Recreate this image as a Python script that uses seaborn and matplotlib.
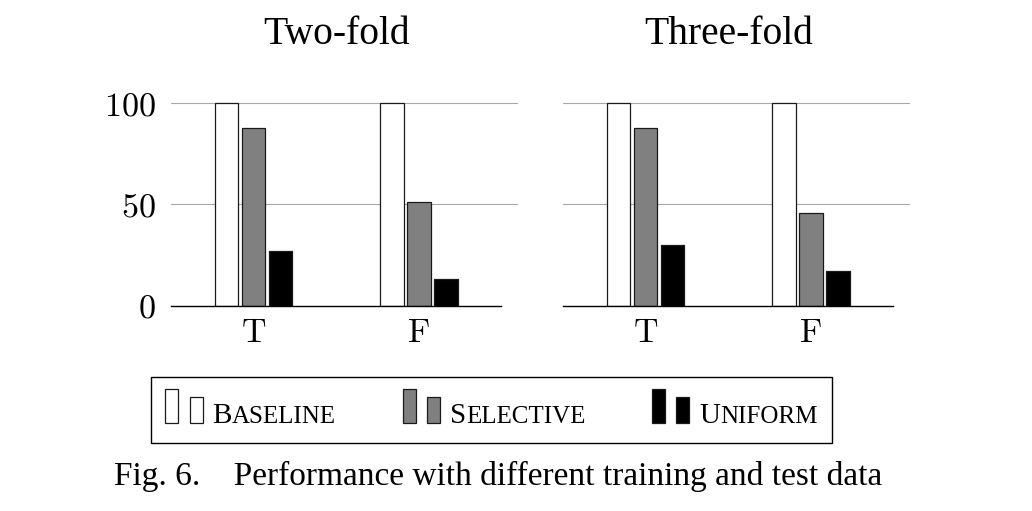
import matplotlib
matplotlib.use("Agg")
import matplotlib.pyplot as plt
import matplotlib.transforms as mtransforms
from matplotlib.patches import Rectangle
from matplotlib.offsetbox import AnchoredOffsetbox, DrawingArea, HPacker, TextArea
import seaborn as sns
import pandas as pd

# data (percent of baseline)
panels = ["Two-fold", "Three-fold"]
conditions = ["T", "F"]
methods = ["Baseline", "Selective", "Uniform"]
baseline_two = [100, 100]
selective_two = [88, 51]
uniform_two = [27, 13]
baseline_three = [100, 100]
selective_three = [88, 46]
uniform_three = [30, 17]
yticks = [0, 50, 100]

colors = {"Baseline": "white", "Selective": "#808080", "Uniform": "black"}
serif = "Liberation Serif"


def make_df(base, sel, uni):
    rows = []
    for vals, m in zip([base, sel, uni], methods):
        for c, v in zip(conditions, vals):
            rows.append({"cond": c, "method": m, "value": v})
    return pd.DataFrame(rows)


def main():
    sns.set_style("white")
    plt.rcParams["font.family"] = [serif, "DejaVu Serif"]
    plt.rcParams["mathtext.fontset"] = "cm"
    plt.rcParams["text.color"] = "black"
    plt.rcParams["xtick.color"] = "black"
    plt.rcParams["ytick.color"] = "black"

    fig = plt.figure(figsize=(10.32, 5.11), dpi=100)
    W, H = 1032, 511
    y0 = 305.7
    h = (305.7 - 103.3) * 1.05
    axes = [
        fig.add_axes([171 / W, 1 - y0 / H, 347 / W, h / H]),
        fig.add_axes([563 / W, 1 - y0 / H, 347 / W, h / H]),
    ]
    data = [
        make_df(baseline_two, selective_two, uniform_two),
        make_df(baseline_three, selective_three, uniform_three),
    ]

    for i, (ax, df, title) in enumerate(zip(axes, data, panels)):
        sns.barplot(data=df, x="cond", y="value", hue="method",
                    order=conditions, hue_order=methods, palette=colors,
                    width=0.49, gap=0.13, edgecolor="#1a1a1a", linewidth=0.9,
                    legend=False, ax=ax, zorder=2)
        for v in yticks[1:]:
            ax.axhline(v, color="#a8a8a8", lw=0.8, zorder=0.5)
        ax.set_xlim(-0.5, 1.6)
        ax.set_ylim(0, 105)
        ax.set_xlabel("")
        ax.set_ylabel("")
        ax.set_xticks(range(len(conditions)))
        ax.set_xticklabels([f"$\\mathrm{{{c}}}$" for c in conditions], fontsize=24.5)
        ax.set_yticks(yticks)
        if i == 0:
            ax.set_yticklabels([f"${v}$" for v in yticks], fontsize=24.5)
        else:
            ax.set_yticklabels([])
        ax.tick_params(axis="x", length=0, pad=9)
        ax.tick_params(axis="y", length=0, pad=11)
        for s in ["top", "right", "left"]:
            ax.spines[s].set_visible(False)
        ax.spines["bottom"].set_color("black")
        ax.spines["bottom"].set_linewidth(1.0)
        ax.spines["bottom"].set_bounds(-0.5, 1.5)
        ax.set_facecolor("white")

        trans = mtransforms.blended_transform_factory(ax.transData, fig.transFigure)
        ax.text(0.5, 1 - 44 / H, title, transform=trans, ha="center",
                va="baseline", fontsize=28.5, family=serif, color="black")

    # legend with two-bar images and small caps labels
    items = []
    for m in methods:
        da = DrawingArea(27, 24, 0, 1.5)
        da.add_artist(Rectangle((0, 0), 9.4, 24, facecolor=colors[m],
                                edgecolor="#1a1a1a", lw=0.9))
        da.add_artist(Rectangle((17.5, 0), 9.4, 18.5, facecolor=colors[m],
                                edgecolor="#1a1a1a", lw=0.9))
        big = TextArea(m[0], textprops=dict(fontsize=21, family=serif, color="black"))
        small = TextArea(m[1:].upper(), textprops=dict(fontsize=18, family=serif, color="black"))
        label = HPacker(children=[big, small], align="baseline", pad=0, sep=0)
        items.append(HPacker(children=[da, label], align="baseline", pad=0, sep=7))
    row = HPacker(children=items, align="baseline", pad=0, sep=48)
    leg = AnchoredOffsetbox(loc="center", child=row, pad=1.0, borderpad=0,
                            frameon=True, prop=dict(size=10),
                            bbox_to_anchor=(491.5 / W, 1 - 410 / H),
                            bbox_transform=fig.transFigure)
    leg.patch.set_boxstyle("square", pad=0)
    leg.patch.set_edgecolor("black")
    leg.patch.set_linewidth(1.0)
    axes[0].add_artist(leg)

    fig.text(498.5 / W, 1 - 485 / H,
             "Fig. 6.\u2003Performance with different training and test data",
             ha="center", va="baseline", fontsize=24, family=serif)

    fig.savefig("out.png", dpi=100)
    plt.close(fig)


if __name__ == "__main__":
    main()
